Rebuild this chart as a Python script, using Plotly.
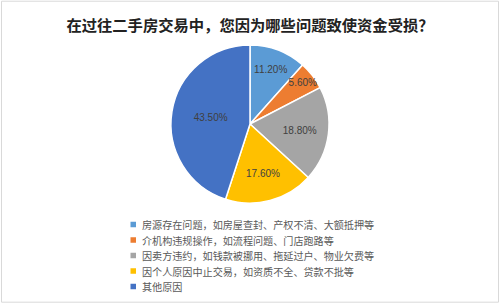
import plotly.graph_objects as go

labels = ["房源存在问题，如房屋查封、产权不清、大额抵押等",
          "介机构违规操作，如流程问题、门店跑路等",
          "因卖方违约，如钱款被挪用、拖延过户、物业欠费等",
          "因个人原因中止交易，如资质不全、贷款不批等",
          "其他原因"]
values = [11.2, 5.6, 18.8, 17.6, 43.5]
texts = ["11.20%", "5.60%", "18.80%", "17.60%", "43.50%"]
colors = ["#5B9BD5", "#ED7D31", "#A5A5A5", "#FFC000", "#4472C4"]

fig = go.Figure(go.Pie(
    labels=labels, values=values, text=texts, textinfo="text",
    textposition="inside", insidetextorientation="horizontal",
    sort=False, direction="clockwise", rotation=0,
    marker=dict(colors=colors, line=dict(color="white", width=1.5)),
    textfont=dict(size=10, color="#404040", family="Liberation Sans"),
    domain=dict(x=[0.24, 0.76], y=[0.332, 0.852]),
    hoverinfo="label+text", showlegend=False,
))

W, H = 500, 304
# manual legend (Excel-style compact spacing)
shapes = [dict(type="rect", xref="paper", yref="paper", x0=0.003, x1=0.997,
               y0=0.006, y1=0.996, line=dict(color="#D9D9D9", width=1))]
annotations = []
for i, (lab, col) in enumerate(zip(labels, colors)):
    yc = 224.5 + 15.5 * i
    shapes.append(dict(type="rect", xref="paper", yref="paper",
                       x0=130.5 / W, x1=136 / W,
                       y0=1 - (yc + 2.75) / H, y1=1 - (yc - 2.75) / H,
                       fillcolor=col, line=dict(width=0)))
    annotations.append(dict(text=lab, x=140 / W, y=1 - yc / H, xref="paper", yref="paper",
                            xanchor="left", yanchor="middle", showarrow=False,
                            font=dict(size=10.1, color="#595959", family="Noto Sans CJK SC")))

fig.update_layout(
    width=W, height=H,
    margin=dict(l=0, r=0, t=0, b=0),
    paper_bgcolor="white",
    title=dict(text="<b>在过往二手房交易中，您因为哪些问题致使资金受损？</b>",
               x=0.5, xanchor="center", y=1 - 26 / H, yanchor="middle",
               font=dict(size=15.3, color="#222222", family="Noto Sans CJK SC")),
    uniformtext=dict(minsize=10, mode="show"),
    shapes=shapes, annotations=annotations,
)

fig.write_html("out.html")
